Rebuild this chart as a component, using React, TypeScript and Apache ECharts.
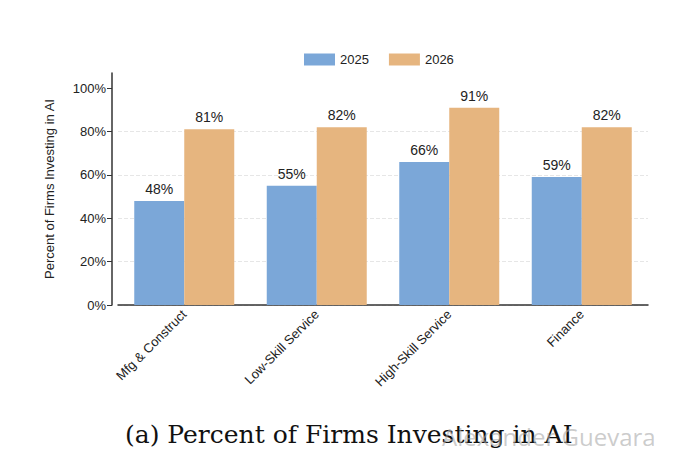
import React, { useEffect, useRef } from 'react';
import * as echarts from 'echarts';

// 数据
const categories = ['Mfg & Construct', 'Low-Skill Service', 'High-Skill Service', 'Finance'];
const values2025 = [48, 55, 66, 59];
const values2026 = [81, 82, 91, 82];
const yTicks = [0, 20, 40, 60, 80, 100];

const FONT = '"Liberation Sans", Arial, sans-serif';

const App: React.FC = () => {
  const chartRef = useRef<HTMLDivElement>(null);

  useEffect(() => {
    document.body.style.margin = '0';
    if (!chartRef.current) return;
    const chart = echarts.init(chartRef.current, undefined, { renderer: 'svg' });

    const barLabel = {
      show: true,
      position: 'top' as const,
      distance: 5,
      formatter: '{c}%',
      fontFamily: FONT,
      fontSize: 14,
      color: '#222',
    };

    chart.setOption({
      animation: false,
      backgroundColor: '#fff',
      legend: {
        data: ['2025', '2026'],
        top: 48,
        left: 299,
        itemWidth: 31,
        itemHeight: 12,
        itemGap: 20,
        icon: 'rect',
        textStyle: { fontFamily: FONT, fontSize: 13, color: '#222' },
      },
      grid: { left: 118, right: 41, top: 73, bottom: 161 },
      xAxis: {
        type: 'category',
        data: categories,
        axisLine: { lineStyle: { color: '#333', width: 1.5 } },
        axisTick: { show: false },
        axisLabel: {
          rotate: 45,
          interval: 0,
          margin: 7,
          fontFamily: FONT,
          fontSize: 13,
          color: '#222',
        },
      },
      yAxis: {
        type: 'value',
        min: 0,
        max: 107,
        interval: 20,
        offset: 6,
        name: 'Percent of Firms Investing in AI',
        nameLocation: 'middle',
        nameGap: 56,
        nameTextStyle: { fontFamily: FONT, fontSize: 13, color: '#222' },
        axisLine: { show: true, lineStyle: { color: '#333', width: 1.5 } },
        axisTick: { show: true, length: 5, customValues: yTicks, lineStyle: { color: '#333' } },
        axisLabel: {
          customValues: yTicks,
          formatter: '{value}%',
          margin: 6,
          fontFamily: FONT,
          fontSize: 13,
          color: '#222',
        },
        splitLine: {
          show: true,
          showMaxLine: false,
          lineStyle: { color: '#e6e6e6', type: 'dashed', width: 1 },
        },
      },
      series: [
        {
          name: '2025',
          type: 'bar',
          data: values2025,
          barWidth: 50,
          barGap: '0%',
          itemStyle: { color: '#7ba7d8' },
          label: barLabel,
        },
        {
          name: '2026',
          type: 'bar',
          data: values2026,
          barWidth: 50,
          barGap: '0%',
          itemStyle: { color: '#e6b57f' },
          label: barLabel,
        },
      ],
      graphic: [
        {
          type: 'text',
          left: 125,
          top: 422,
          style: {
            text: '(a) Percent of Firms Investing in AI',
            font: '25px "DejaVu Serif", serif',
            fill: '#111',
          },
        },
        {
          type: 'text',
          left: 442,
          top: 424,
          style: {
            text: 'Alexander Guevara',
            font: '24px "Open Sans", sans-serif',
            fill: 'rgba(170,170,170,0.6)',
          },
        },
      ],
    });

    return () => {
      chart.dispose();
    };
  }, []);

  return <div ref={chartRef} style={{ width: 689, height: 466 }} />;
};

export default App;
